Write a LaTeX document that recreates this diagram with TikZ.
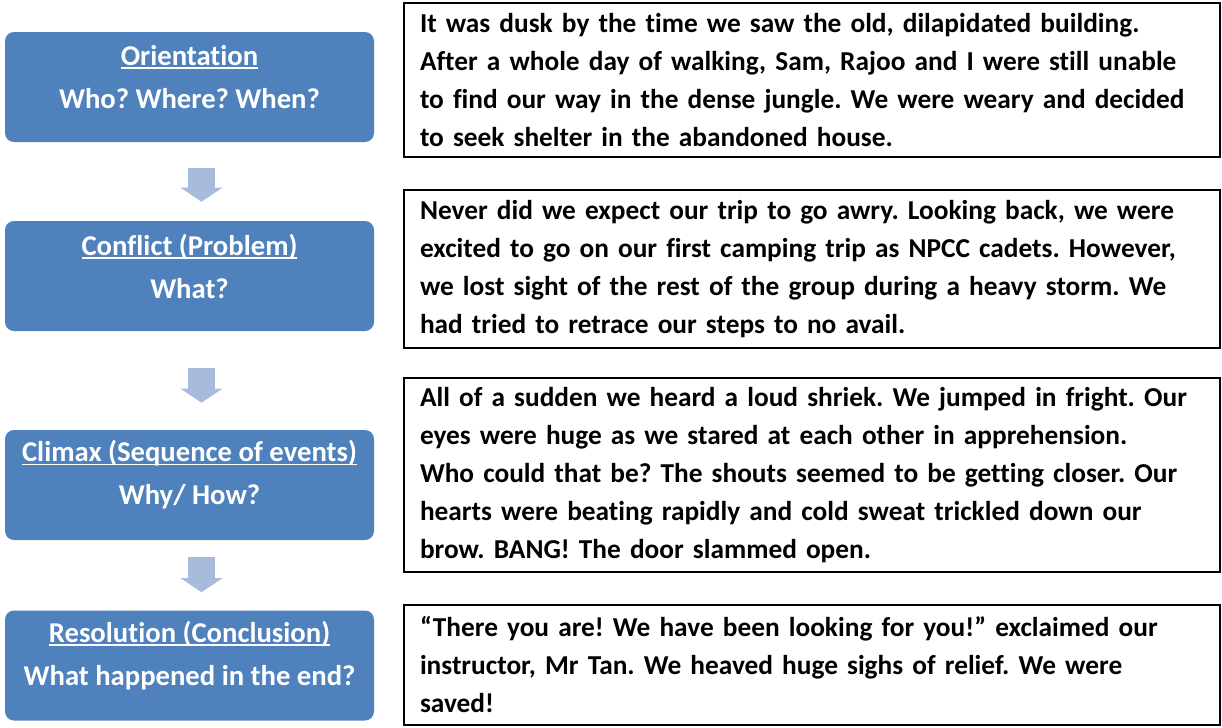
\documentclass[tikz,border=0pt]{standalone}
\usepackage{fontspec}
\setmainfont{Carlito}[Ligatures=NoCommon]
\usetikzlibrary{arrows.meta}
\definecolor{stageblue}{RGB}{79,129,189}
\definecolor{arrowblue}{RGB}{167,187,220}
\newcommand{\stagehead}[1]{\setbox0\hbox{#1}\rlap{\rule[-2.6pt]{\wd0}{1.3pt}}\box0}
\frenchspacing

\begin{document}
\begin{tikzpicture}[x=0.75pt,y=-0.75pt,
	stagebox/.style={fill=stageblue,rounded corners=6.75pt,minimum width=276.75pt,minimum height=82.5pt,inner sep=0pt},
	stagetext/.style={text=white,font=\fontsize{21.5}{32.25}\selectfont\bfseries,align=center},
	storybox/.style={draw=black,line width=1.5pt,minimum width=612pt,text width=588pt,inner xsep=12pt,align=left,font=\fontsize{20.5}{28.5}\selectfont\bfseries},
	downarrow/.style={draw=arrowblue,line width=20.25pt,-{Triangle[width=30.75pt,length=10.5pt]}}]
	\useasboundingbox (0,0) rectangle (1222,728);
	\node[stagebox] (orient) at (189.5,87) {};
	\node[stagebox] (conflict) at (189.5,276) {};
	\node[stagebox] (climax) at (189.5,485) {};
	\node[stagebox] (resolution) at (189.5,665.5) {};
	\node[stagetext] (orient text) at ([yshift=7.5pt]orient.center) {\stagehead{Orientation}\\Who? Where? When?};
	\node[stagetext] (conflict text) at ([yshift=7.5pt]conflict.center) {\stagehead{Conflict (Problem)}\\What?};
	\node[stagetext] (climax text) at ([yshift=7.5pt]climax.center) {\stagehead{Climax (Sequence of events)}\\Why/ How?};
	\node[stagetext] (resolution text) at ([yshift=7.5pt]resolution.center) {\stagehead{Resolution (Conclusion)}\\What happened in the end?};
	\draw[downarrow,shorten <=19.5pt,shorten >=14.25pt] ([xshift=9pt]orient.south) -- ([xshift=9pt]conflict.north);
	\draw[downarrow,shorten <=27.75pt,shorten >=20.25pt] ([xshift=9pt]conflict.south) -- ([xshift=9pt]climax.north);
	\draw[downarrow,shorten <=12.75pt,shorten >=13.5pt] ([xshift=9pt]climax.south) -- ([xshift=9pt]resolution.north);
	\node[storybox,minimum height=115.5pt] (orient story) at (812,80) {It was dusk by the time we saw the old, dilapidated building.\\After a whole day of walking, Sam, Rajoo and I were still unable\\to find our way in the dense jungle. We were weary and decided\\to seek shelter in the abandoned house.};
	\node[storybox,minimum height=118.5pt] (conflict story) at (812,269) {Never did we expect our trip to go awry. Looking back, we were\\excited to go on our first camping trip as NPCC cadets. However,\\we lost sight of the rest of the group during a heavy storm. We\\had tried to retrace our steps to no avail.};
	\node[storybox,minimum height=145.5pt] (climax story) at (812,475) {All of a sudden we heard a loud shriek. We jumped in fright. Our\\eyes were huge as we stared at each other in apprehension.\\Who could that be? The shouts seemed to be getting closer. Our\\hearts were beating rapidly and cold sweat trickled down our\\brow. BANG! The door slammed open.};
	\node[storybox,minimum height=90pt] (resolution story) at (812,665) {“There you are! We have been looking for you!” exclaimed our\\instructor, Mr Tan. We heaved huge sighs of relief. We were\\saved!};
\end{tikzpicture}
\end{document}
